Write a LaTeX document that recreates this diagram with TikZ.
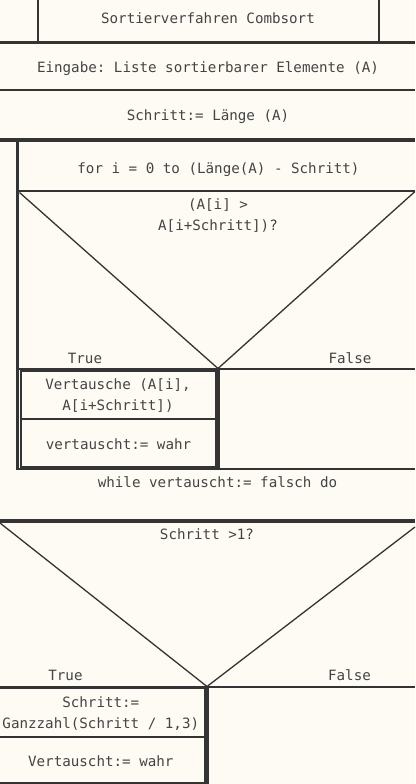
\documentclass[tikz,border=0pt]{standalone}
\usepackage{fontspec}
\setmonofont{DejaVu Sans Mono}
\usetikzlibrary{positioning}
\definecolor{paper}{RGB}{253,251,243}
\definecolor{ink}{RGB}{52,52,52}
\definecolor{txt}{RGB}{68,68,68}

\begin{document}
\begin{tikzpicture}[
    x=1pt, y=-1pt,
    every node/.style={font=\ttfamily\fontsize{14.2}{21}\selectfont, text=txt, inner sep=0pt},
    stmt/.style={anchor=base},
    multi/.style={anchor=center, align=center},
    bar/.style={draw=ink, line width=2.5pt},
    heavy/.style={draw=ink, line width=3.2pt},
    edge/.style={draw=ink, line width=1.3pt},
    frame/.style={draw=ink, line width=2pt}
]
\fill[paper] (0,0) rectangle (415,784);
\useasboundingbox (0,0) rectangle (415,784);

% texts
\node[stmt] (title) at (208,24) {Sortierverfahren Combsort};
\node[stmt] (input) at (208,72) {Eingabe: Liste sortierbarer Elemente (A)};
\node[stmt] (init) at (208,120) {Schritt:= Länge (A)};
\node[stmt] (forhead) at (218.5,173) {for i = 0 to (Länge(A) - Schritt)};
\node[multi, font=\ttfamily\fontsize{14.2}{20.5}\selectfont] (cond1) at (218,215.5) {(A[i] >\\A[i+Schritt])?};
\node[stmt] (true1) at (85,363) {True};
\node[stmt] (false1) at (350,363) {False};
\node[multi] (swap) at (118,395.5) {Vertausche (A[i],\\A[i+Schritt])};
\node[stmt] (setflag) at (118.5,449) {vertauscht:= wahr};
\node[stmt] (whilefoot) at (217.5,487) {while vertauscht:= falsch do};
\node[stmt] (cond2) at (207,539) {Schritt >1?};
\node[stmt] (true2) at (65.5,680.5) {True};
\node[stmt] (false2) at (349.5,680.5) {False};
\node[multi] (shrink) at (100.8,714) {Schritt:=\\Ganzzahl(Schritt / 1,3)};
\node[stmt] (reset) at (100.8,766.5) {Vertauscht:= wahr};

% structure
\coordinate (apex1) at (218,368.5);
\coordinate (apex2) at (207,686.5);
\draw[edge] (38,0) -- (38,42);
\draw[edge] (379,0) -- (379,42);
\draw[bar] (0,42.5) -- (415,42.5);
\draw[bar] (0,90) -- (415,90);
\draw[heavy] (0,140) -- (415,140);
\draw[bar] (17.5,138.5) -- (17.5,470);
\draw[bar] (17,191) -- (415,191);
\draw[edge] (19.5,192.5) -- (apex1) -- (415,191.5);
\draw[draw=ink, line width=1.5pt] (17,369) -- (415,369);
\draw[frame] (20.5,370.5) rectangle (216,467);
\draw[frame] (20.5,419) -- (216,419);
\draw[heavy] (apex1) -- (218,469);
\draw[bar] (16,469) -- (415,469);
\draw[heavy] (0,521) -- (415,521);
\draw[edge] (0,523) -- (apex2) -- (415,527);
\draw[draw=ink, line width=1.5pt] (0,687) -- (415,687);
\draw[frame] (-2,688) rectangle (205,783);
\draw[frame] (0,737) -- (205,737);
\draw[heavy] (apex2) -- (207,784);
\end{tikzpicture}
\end{document}
